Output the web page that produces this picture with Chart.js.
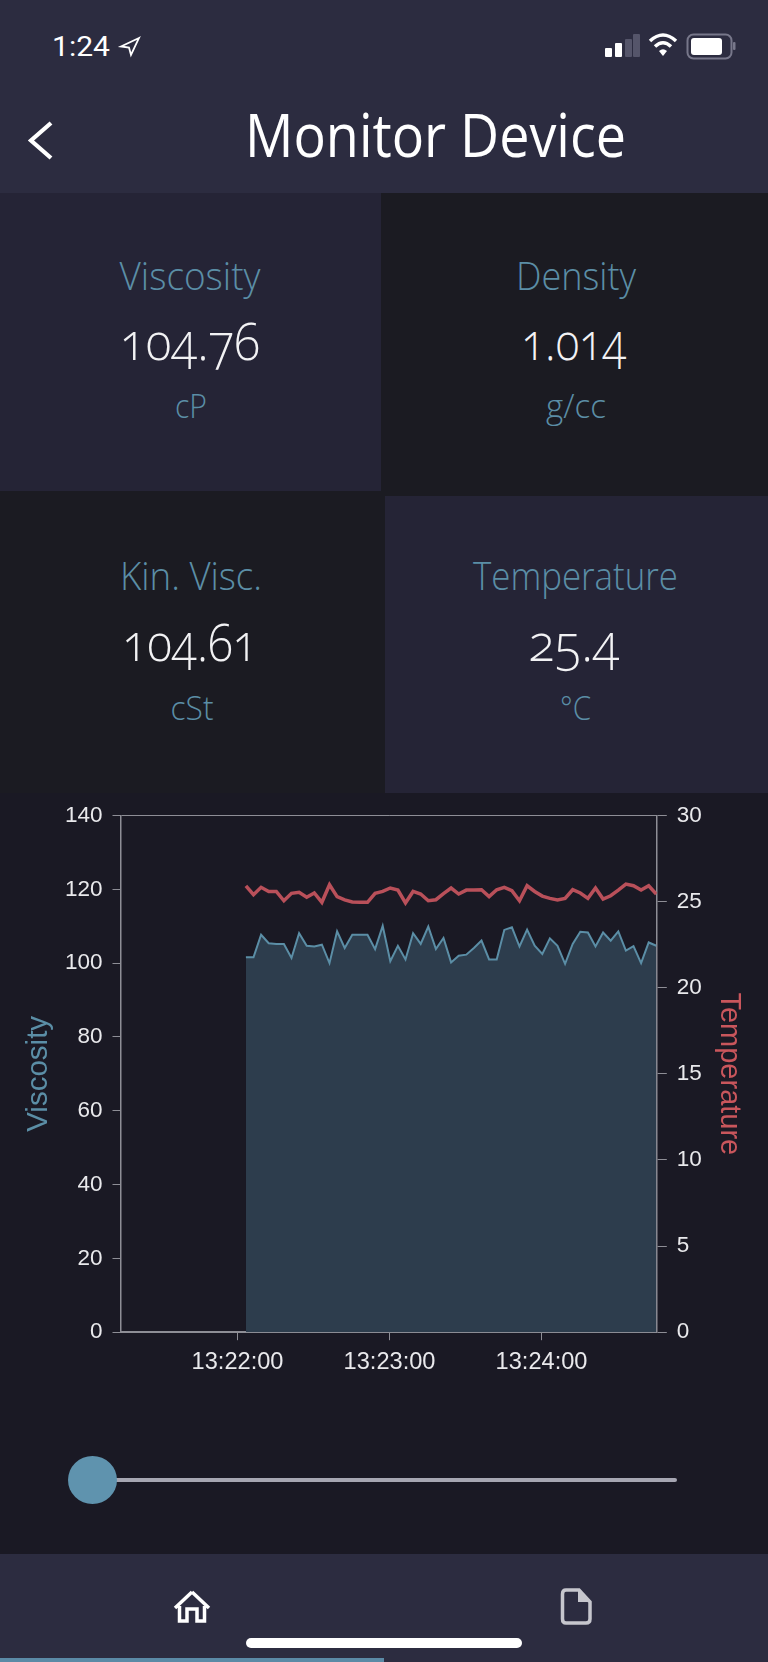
<!DOCTYPE html>
<html>
<head>
<meta charset="utf-8">
<style>
html,body{margin:0;padding:0;background:#1a1924;width:768px;height:1662px;overflow:hidden}
svg{position:absolute;left:0;top:0}
#wrap{position:absolute;left:0;top:791.800px;width:768px;height:588.200px}
.ui{font-family:"Open Sans";font-weight:300;fill:#5b8ea6;text-anchor:middle}
.num{font-family:"Open Sans";font-weight:300;fill:#f2f2f4;text-anchor:middle;font-feature-settings:"onum" 1;font-variant-numeric:oldstyle-nums}
</style>
</head>
<body>
<svg width="768" height="1662" viewBox="0 0 768 1662">
  <rect x="0" y="0" width="768" height="193" fill="#2c2c40"/>
  <rect x="0" y="193" width="768" height="303" fill="#1b1b22"/>
  <rect x="0" y="193" width="381" height="298" fill="#252436"/>
  <rect x="0" y="496" width="768" height="297" fill="#1b1b22"/>
  <rect x="385" y="496" width="383" height="297" fill="#252436"/>
  <rect x="0" y="1554" width="768" height="108" fill="#2c2c40"/>
  <rect x="0" y="1658" width="384" height="4" fill="#5b8aa6"/>

  <text x="52" y="56" font-family="Roboto" font-weight="400" font-size="28" fill="#fff" textLength="58" lengthAdjust="spacingAndGlyphs">1:24</text>
  <path d="M139 38 L121 46.500 L129 47.500 L131 55 Z" fill="none" stroke="#fff" stroke-width="1.800"/>
  <rect x="605" y="48" width="7" height="9" rx="1" fill="#fff"/>
  <rect x="615" y="43" width="7" height="14" rx="1" fill="#fff"/>
  <rect x="625" y="39" width="7" height="18" rx="1" fill="#55556a"/>
  <rect x="633" y="34" width="7" height="23" rx="1" fill="#55556a"/>
  <path d="M650 41 Q663 29 676 41 M655 46.500 Q663 39 671 46.500" fill="none" stroke="#fff" stroke-width="3.500"/>
  <path d="M659 51 Q663 47.500 667 51 L663 56 Z" fill="#fff"/>
  <rect x="687.500" y="34.500" width="44" height="24" rx="6" fill="none" stroke="#77778a" stroke-width="2"/>
  <rect x="691" y="38" width="31" height="17" rx="3" fill="#fff"/>
  <rect x="733" y="42" width="2.500" height="8" rx="1" fill="#77778a"/>

  <path d="M51 123 L31 140.500 L51 158" fill="none" stroke="#fff" stroke-width="4.200"/>
  <text x="435.500" y="157" font-family="Open Sans" font-weight="400" font-size="60" fill="#fff" text-anchor="middle" textLength="381" lengthAdjust="spacingAndGlyphs">Monitor Device</text>

  <text class="ui" x="190" y="290" font-size="38" textLength="141" lengthAdjust="spacingAndGlyphs">Viscosity</text>
  <text class="num" x="190" y="360" font-size="52" textLength="140" lengthAdjust="spacingAndGlyphs">104.76</text>
  <text class="ui" x="191" y="418" font-size="33" textLength="32" lengthAdjust="spacingAndGlyphs">cP</text>

  <text class="ui" x="576" y="290" font-size="38" textLength="120" lengthAdjust="spacingAndGlyphs">Density</text>
  <text class="num" x="574" y="360" font-size="52" textLength="105" lengthAdjust="spacingAndGlyphs">1.014</text>
  <text class="ui" x="576" y="418" font-size="33" textLength="60" lengthAdjust="spacingAndGlyphs">g/cc</text>

  <text class="ui" x="191" y="590" font-size="38" textLength="142" lengthAdjust="spacingAndGlyphs">Kin. Visc.</text>
  <text class="num" x="190" y="661" font-size="52" textLength="135" lengthAdjust="spacingAndGlyphs">104.61</text>
  <text class="ui" x="192" y="720" font-size="33" textLength="43" lengthAdjust="spacingAndGlyphs">cSt</text>

  <text class="ui" x="575.500" y="590" font-size="38" textLength="205" lengthAdjust="spacingAndGlyphs">Temperature</text>
  <text class="num" x="574" y="661" font-size="52" textLength="91" lengthAdjust="spacingAndGlyphs">25.4</text>
  <text class="ui" x="575.500" y="720" font-size="33" textLength="31" lengthAdjust="spacingAndGlyphs">°C</text>

  <line x1="110" y1="1480" x2="675" y2="1480" stroke="#a6a6b2" stroke-width="4" stroke-linecap="round"/>
  <ellipse cx="92.500" cy="1480" rx="24.500" ry="24" fill="#5f93ae"/>

  <path d="M192 1592 L175 1608 M192 1592 L209 1608 M179.500 1606 L179.500 1621 L187 1621 L187 1609 L197 1609 L197 1621 L204.500 1621 L204.500 1606" fill="none" stroke="#fff" stroke-width="3.500"/>
  <path d="M566 1590 L579 1590 L590 1602 L590 1619 Q590 1623 586 1623 L566 1623 Q562.500 1623 562.500 1619 L562.500 1594 Q562.500 1590 566 1590 Z" fill="none" stroke="#c6c6cd" stroke-width="3.500"/>
  <path d="M578 1590 L590 1602 L578 1602 Z" fill="#c6c6cd"/>
  <rect x="246" y="1638" width="276" height="10" rx="5" fill="#fff"/>
</svg>
<div id="wrap"><canvas id="c"></canvas></div>
<script src="https://cdn.jsdelivr.net/npm/chart.js@4"></script>
<script>
const timeLabels = ["13:22:03.3","13:22:06.3","13:22:09.3","13:22:12.3","13:22:15.3","13:22:18.3","13:22:21.3","13:22:24.3","13:22:27.3","13:22:30.3","13:22:33.3","13:22:36.3","13:22:39.3","13:22:42.3","13:22:45.3","13:22:48.3","13:22:51.3","13:22:54.3","13:22:57.3","13:23:00.3","13:23:03.3","13:23:06.3","13:23:09.3","13:23:12.3","13:23:15.3","13:23:18.3","13:23:21.3","13:23:24.3","13:23:27.3","13:23:30.3","13:23:33.3","13:23:36.3","13:23:39.3","13:23:42.3","13:23:45.3","13:23:48.3","13:23:51.3","13:23:54.3","13:23:57.3","13:24:00.3","13:24:03.3","13:24:06.3","13:24:09.3","13:24:12.3","13:24:15.3","13:24:18.3","13:24:21.3","13:24:24.3","13:24:27.3","13:24:30.3","13:24:33.3","13:24:36.3","13:24:39.3","13:24:42.3","13:24:45.3"];
const viscosityValues = [101.6,101.6,107.7,105.4,105.2,105.2,101.4,108.1,104.7,104.5,105,100,108.6,104.1,107.7,107.7,107.7,103.8,110.1,100.5,104.7,101,108.1,105.2,109.9,103.8,106.8,100.2,102,102.3,104.1,106.1,101,101,109,109.7,104.5,109.1,104.7,102.5,106.7,104.7,99.8,105.2,108.5,108.3,104.5,108.3,106.1,108.6,103.4,104.6,100,105.6,104.7];
const temperatureValues = [25.92,25.40,25.83,25.59,25.59,25.05,25.48,25.54,25.25,25.50,24.96,25.98,25.29,25.10,24.98,24.96,24.96,25.48,25.59,25.79,25.67,24.92,25.59,25.44,25.05,25.11,25.47,25.79,25.44,25.67,25.67,25.69,25.29,25.69,25.83,25.63,25.05,25.92,25.59,25.32,25.19,25.10,25.19,25.69,25.50,25.19,25.79,25.15,25.34,25.67,26.02,25.92,25.67,25.92,25.44];
const xRange = ["13:21:13.8","13:24:45.5"];

const toSec = s => { const p = s.split(":").map(Number); return p[0]*3600 + p[1]*60 + p[2]; };
const fmt = v => { const h=Math.floor(v/3600), m=Math.floor(v%3600/60), s=Math.round(v%60);
  const z=n=>String(n).padStart(2,"0"); return z(h)+":"+z(m)+":"+z(s); };

const axisColor = "#8e8e96";
const tickColor = "#e9e9ec";
const blue = "#5b8ea6";
const red = "#b9505a";
const tickFont = {family:"Liberation Sans", size:22.5};

new Chart(document.getElementById("c"), {
  type:"line",
  data:{datasets:[
    {label:"Temperature", yAxisID:"yT", data:timeLabels.map((t,i)=>({x:toSec(t),y:temperatureValues[i]})),
     borderColor:red, borderWidth:3.5, pointRadius:0, tension:0, fill:false},
    {label:"Viscosity", yAxisID:"yV", data:timeLabels.map((t,i)=>({x:toSec(t),y:viscosityValues[i]})),
     borderColor:blue, borderWidth:2, pointRadius:0, tension:0, fill:"origin", backgroundColor:"#2d3d4d"}
  ]},
  options:{
    responsive:true, maintainAspectRatio:false, animation:false,
    layout:{padding:0},
    plugins:{legend:{display:false},tooltip:{enabled:false}},
    scales:{
      x:{type:"linear", min:toSec(xRange[0]), max:toSec(xRange[1]),
        afterFit:s=>{s.height=48},
        border:{color:axisColor,width:2},
        grid:{drawOnChartArea:false,color:axisColor,tickLength:8},
        ticks:{stepSize:60,includeBounds:false,color:tickColor,font:{family:"Liberation Sans",size:23.6},padding:8,maxRotation:0,autoSkip:false,callback:v=>fmt(v)}},
      yV:{position:"left",min:0,max:140,
        afterFit:s=>{s.width=120.5},
        border:{color:axisColor,width:1.5},
        grid:{tickLength:8,tickColor:axisColor,color:c=>c.tick.value===140?axisColor:"transparent"},
        ticks:{stepSize:20,color:tickColor,font:tickFont,padding:10},
        title:{display:true,text:"Viscosity",color:blue,font:{family:"Liberation Sans",size:29.5},padding:{top:21.5,bottom:0}}},
      yT:{position:"right",min:0,max:30,
        afterFit:s=>{s.width=111.2},
        border:{color:axisColor,width:1.5},
        grid:{drawOnChartArea:false,tickLength:10,tickColor:axisColor},
        ticks:{stepSize:5,color:tickColor,font:tickFont,padding:10},
        title:{display:true,text:"Temperature",color:"#c9565c",font:{family:"Liberation Sans",size:29},padding:{top:21.5,bottom:0}}}
    }
  }
});
</script>
</body>
</html>
